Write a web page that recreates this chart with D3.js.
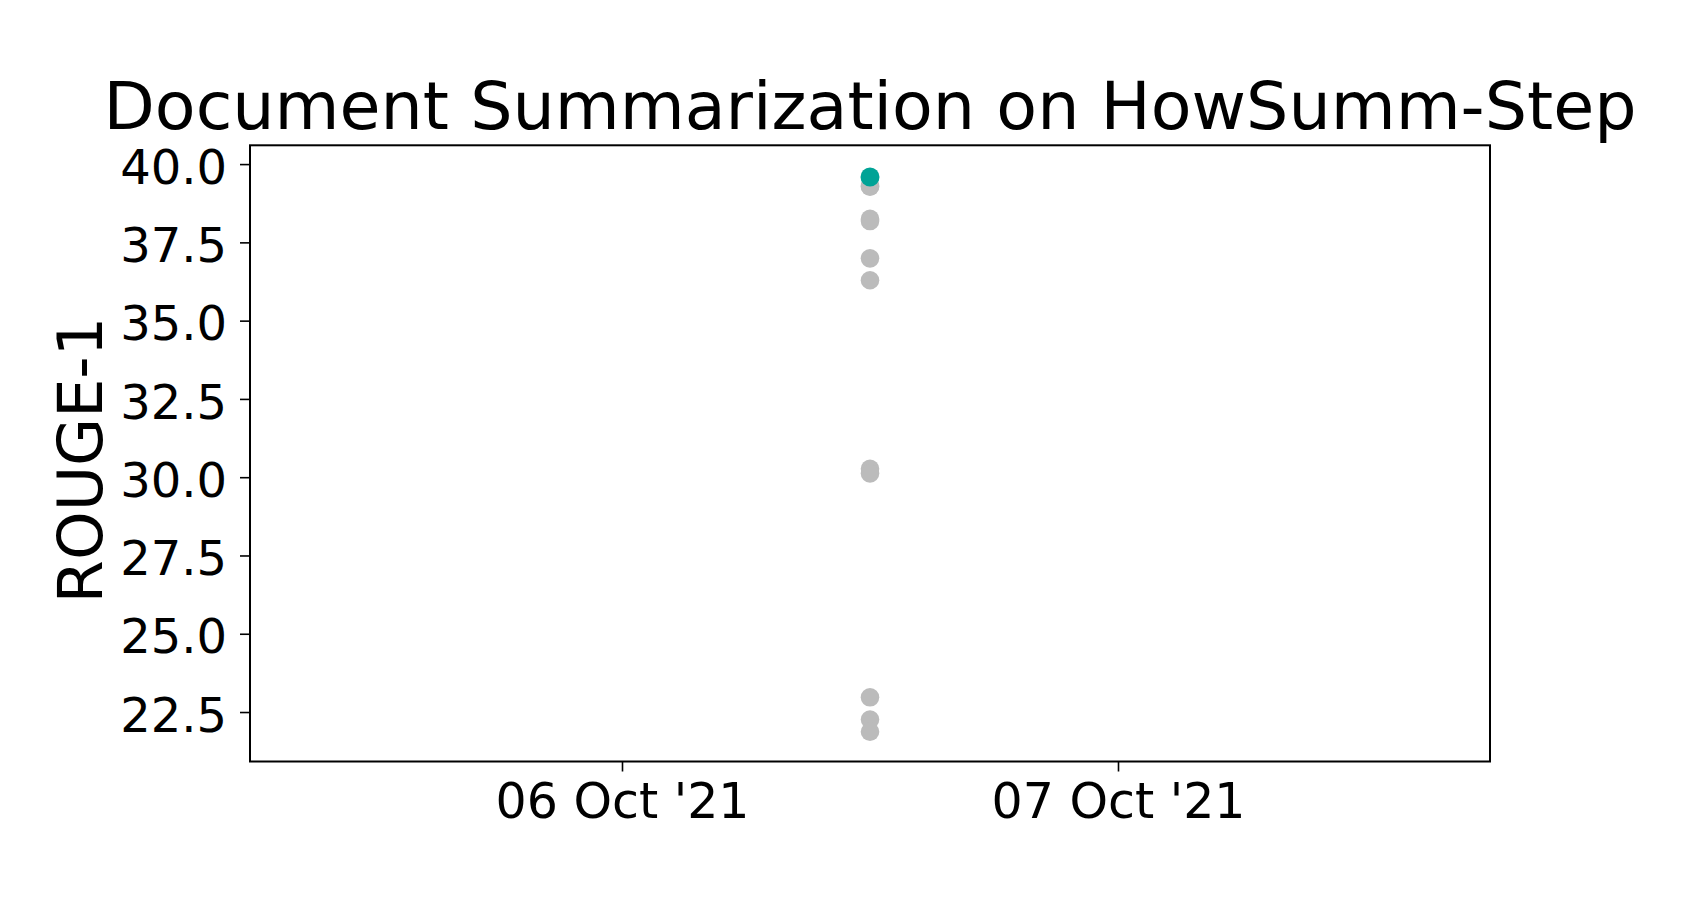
<!DOCTYPE html>
<html>
<head>
<meta charset="utf-8">
<script src="https://cdn.jsdelivr.net/npm/d3@7/dist/d3.min.js"></script>
<style>
  html, body { margin: 0; padding: 0; background: #fff; }
  svg { display: block; }
  text { font-family: "DejaVu Sans", sans-serif; fill: #000; }
</style>
</head>
<body>
<svg id="chart" width="1700" height="900"></svg>
<script>
// ---- data ----
const title = "Document Summarization on HowSumm-Step";
const yLabel = "ROUGE-1";
const otherDates = ["2021-10-06T12:00:00Z","2021-10-06T12:00:00Z","2021-10-06T12:00:00Z","2021-10-06T12:00:00Z","2021-10-06T12:00:00Z","2021-10-06T12:00:00Z","2021-10-06T12:00:00Z","2021-10-06T12:00:00Z","2021-10-06T12:00:00Z","2021-10-06T12:00:00Z","2021-10-06T12:00:00Z"];
const otherValues = [39.28, 38.25, 38.18, 36.99, 36.29, 30.27, 30.12, 22.97, 22.26, 21.87, 39.30];
const bestDates = ["2021-10-06T12:00:00Z"];
const bestValues = [39.59];
const yTickValues = [22.5, 25.0, 27.5, 30.0, 32.5, 35.0, 37.5, 40.0];
const xTickDates = ["2021-10-06T00:00:00Z", "2021-10-07T00:00:00Z"];
const xDomain = ["2021-10-05T06:00:00Z", "2021-10-07T18:00:00Z"];
const yDomain = [20.92, 40.6];

// ---- layout ----
const L = 250, R = 1490, T = 145.3, B = 761.5;
const svg = d3.select("#chart");

const x = d3.scaleUtc().domain(xDomain.map(d => new Date(d))).range([L, R]);
const y = d3.scaleLinear().domain(yDomain).range([B, T]);

// points
const g = svg.append("g");
g.selectAll("circle.other")
  .data(otherValues.map((v, i) => ({ d: new Date(otherDates[i]), v })))
  .enter().append("circle")
  .attr("class", "other")
  .attr("cx", d => x(d.d)).attr("cy", d => y(d.v))
  .attr("r", 9.3).attr("fill", "#bbbbbb");
g.selectAll("circle.best")
  .data(bestValues.map((v, i) => ({ d: new Date(bestDates[i]), v })))
  .enter().append("circle")
  .attr("class", "best")
  .attr("cx", d => x(d.d)).attr("cy", d => y(d.v))
  .attr("r", 9.5).attr("fill", "#00a396");

// axes
const fmt = d3.utcFormat("%d %b '%y");
const xAxis = d3.axisBottom(x)
  .tickValues(xTickDates.map(d => new Date(d)))
  .tickFormat(fmt).tickSize(10).tickPadding(8).tickSizeOuter(0);
const yAxis = d3.axisLeft(y)
  .tickValues(yTickValues).tickFormat(d3.format(".1f"))
  .tickSize(10).tickPadding(13).tickSizeOuter(0);

const gx = svg.append("g").attr("transform", `translate(0,${B})`).call(xAxis);
const gy = svg.append("g").attr("transform", `translate(${L},0)`).call(yAxis);
[gx, gy].forEach(a => {
  a.select(".domain").remove();
  a.selectAll(".tick line").attr("stroke", "#000").attr("stroke-width", 1.6);
  a.selectAll(".tick text").style("font-family", "DejaVu Sans").attr("fill", "#000");
});
gx.selectAll(".tick text").style("font-size", "49px").attr("dy", null).attr("y", 56.5);
gy.selectAll(".tick text").style("font-size", "48px").attr("dy", "0.4em");

// frame
svg.append("rect")
  .attr("x", L).attr("y", T).attr("width", R - L).attr("height", B - T)
  .attr("fill", "none").attr("stroke", "#000").attr("stroke-width", 2);

// title
svg.append("text")
  .attr("x", (L + R) / 2).attr("y", 129)
  .attr("text-anchor", "middle")
  .style("font-size", "66.7px")
  .text(title);

// y label
svg.append("text")
  .attr("transform", `translate(102,460) rotate(-90)`)
  .attr("text-anchor", "middle")
  .style("font-size", "62px")
  .text(yLabel);
</script>
</body>
</html>
